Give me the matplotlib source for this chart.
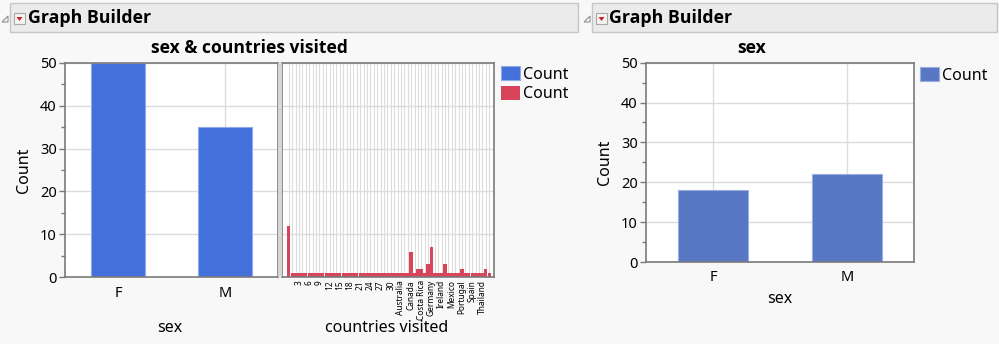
import numpy as np
import matplotlib.pyplot as plt
from matplotlib.patches import Rectangle, Polygon

W, H = 999, 344

# data
sex = ['F', 'M']
count_left = [50, 35]
count_right = [18, 22]

visited = ['', '1', '2', '3', '4', '5', '6', '7', '8', '9', '10', '11', '12',
           '13', '14', '15', '16', '17', '18', '19', '20', '21', '22', '23',
           '24', '25', '26', '27', '28', '29', '30', '31', '32',
           'Australia', 'Austria', 'Brazil', 'Canada', 'China', 'Colombia',
           'Costa Rica', 'England', 'France', 'Germany', 'Greece', 'India',
           'Ireland', 'Italy', 'Japan', 'Mexico', 'Netherlands', 'Peru',
           'Portugal', 'Russia', 'Scotland', 'Spain', 'Sweden', 'Switzerland',
           'Thailand', 'UK', 'USA']
visited_count = [12, 1, 1, 1, 1, 1, 1, 1, 1, 1, 1, 1, 1,
                 1, 1, 1, 1, 1, 1, 1, 1, 1, 1, 1,
                 1, 1, 1, 1, 1, 1, 1, 1, 1,
                 1, 1, 1, 6, 1, 2,
                 2, 1, 3, 7, 1, 1,
                 1, 3, 1, 1, 1, 1,
                 2, 1, 1, 1, 1, 1,
                 1, 2, 1]

blue1 = '#4470DC'
red1 = '#D84459'
blue2 = '#5878C4'
bg = '#F8F8F8'
grid = '#DCDCDC'
spine = '#7A7A7A'

plt.rcParams['font.family'] = ['Noto Sans', 'DejaVu Sans']
BOLD = ['Open Sans', 'DejaVu Sans']

fig = plt.figure(figsize=(W / 100, H / 100), dpi=100, facecolor=bg)


def rect(x0, y0, x1, y1):
    return [x0 / W, 1 - y1 / H, (x1 - x0) / W, (y1 - y0) / H]


def ftext(x, y, s, **kw):
    fig.text(x / W, 1 - y / H, s, **kw)


def fpatch(p):
    p.set_transform(fig.transFigure)
    fig.patches.append(p)


def header(x0, x1, tx):
    fpatch(Rectangle((x0 / W, 1 - 31.5 / H), (x1 - x0) / W, 28 / H,
                     facecolor='#EBEBEB', edgecolor='#C6C6C6', lw=1))
    ix = x0 + 4
    fpatch(Rectangle((ix / W, 1 - 24 / H), 11 / W, 11 / H,
                     facecolor='#F4F4F4', edgecolor='#A8A8A8', lw=0.8))
    fpatch(Polygon([((ix + 2.5) / W, 1 - 17 / H), ((ix + 8.5) / W, 1 - 17 / H),
                    ((ix + 5.5) / W, 1 - 21 / H)], closed=True,
                   facecolor='#D02020', edgecolor='none'))
    fpatch(Polygon([((x0 - 8) / W, 1 - 22 / H), ((x0 - 2) / W, 1 - 16 / H),
                    ((x0 - 2) / W, 1 - 22 / H)], closed=True,
                   facecolor='none', edgecolor='#909090', lw=0.8))
    ftext(tx, 18, 'Graph Builder', fontsize=12.8, fontweight='bold',
          family=BOLD, ha='left', va='center')


header(10, 578, 28)
header(592, 997, 609)


def style(ax, yticks=True):
    ax.set_facecolor('white')
    ax.set_ylim(0, 50)
    ax.set_yticks([0, 10, 20, 30, 40, 50])
    ax.set_yticks([5, 15, 25, 35, 45], minor=True)
    ax.grid(True, color=grid, lw=1)
    ax.set_axisbelow(True)
    for s in ax.spines.values():
        s.set_color(spine)
        s.set_linewidth(1.2)
    ax.tick_params(axis='y', colors=spine, labelcolor='black', labelsize=10.5,
                   length=4, width=1, pad=2)
    ax.tick_params(axis='y', which='minor', colors=spine, length=3, width=1)
    ax.tick_params(axis='x', length=0, labelsize=10.5, pad=6)
    if not yticks:
        ax.tick_params(axis='y', which='both', left=False, labelleft=False)


# left graph: sex
ax1 = fig.add_axes(rect(65, 62.7, 278, 277.3))
b1 = ax1.bar(np.arange(len(sex)), count_left, width=0.51, color=blue1,
             edgecolor='#8FA9EC', lw=0.8, label='Count')
ax1.set_xlim(-0.5, 1.5)
ax1.set_xticks(np.arange(len(sex)), sex)
style(ax1)
ax1.set_ylabel('Count', fontsize=11.5, labelpad=6)

# left graph: countries visited
ax2 = fig.add_axes(rect(282, 62.7, 494, 277.3))
pos = np.arange(len(visited))
b2 = ax2.bar(pos, visited_count, width=0.96, color=red1,
             edgecolor='none', label='Count')
ax2.set_xlim(-2.0, 60.4)
style(ax2, yticks=False)
ax2.set_xticks(pos)
ax2.set_xticklabels([v if i % 3 == 0 else '' for i, v in enumerate(visited)],
                    rotation=90, fontsize=6)
ax2.tick_params(axis='x', pad=2)
ax2.grid(True, axis='x', color=grid, lw=0.8)

# separator between panels
fpatch(Rectangle((278 / W, 1 - 277.3 / H), 4 / W, 214.6 / H,
                 facecolor='#D6D6D6', edgecolor='none'))

ftext(170, 328, 'sex', fontsize=11.5, ha='center', va='center')
ftext(387, 328, 'countries visited', fontsize=11.5, ha='center', va='center')
ftext(249.5, 48, 'sex & countries visited', fontsize=12.6, fontweight='bold',
      family=BOLD, ha='center', va='center')

fig.legend(handles=[b1, b2], labels=['Count', 'Count'], loc='upper left',
           bbox_to_anchor=(498 / W, 1 - 63 / H), frameon=False,
           fontsize=11.5, handlelength=1.15, handleheight=0.95,
           handletextpad=0.2, labelspacing=0.2, borderaxespad=0,
           borderpad=0.2)

# right graph: sex
ax3 = fig.add_axes(rect(646, 62.7, 914, 262))
b3 = ax3.bar(np.arange(len(sex)), count_right, width=0.515, color=blue2,
             edgecolor='#9AAEE0', lw=0.8, label='Count')
ax3.set_xlim(-0.5, 1.5)
ax3.set_xticks(np.arange(len(sex)), sex)
style(ax3)
ax3.set_ylabel('Count', fontsize=11.5, labelpad=6)
ax3.set_xlabel('sex', fontsize=11.5, labelpad=4)
ftext(751.5, 48, 'sex', fontsize=12.6, fontweight='bold', family=BOLD,
      ha='center', va='center')

fig.legend(handles=[b3], labels=['Count'], loc='upper left',
           bbox_to_anchor=(917 / W, 1 - 64 / H), frameon=False,
           fontsize=11.5, handlelength=1.15, handleheight=0.95,
           handletextpad=0.2, borderaxespad=0, borderpad=0.2)

fig.savefig('out.png', dpi=100, facecolor=bg)
